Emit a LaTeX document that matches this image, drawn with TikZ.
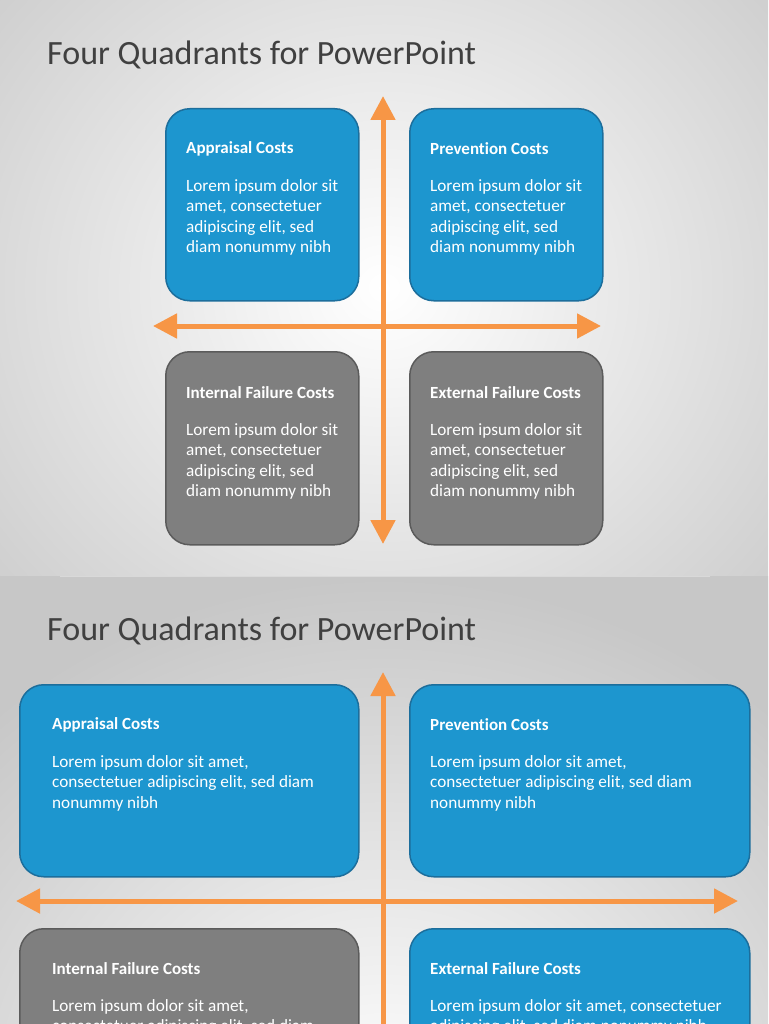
\documentclass[tikz,border=0pt]{standalone}
\usepackage{fontspec}
\setmainfont[Ligatures={NoCommon}]{Carlito}
\usetikzlibrary{arrows.meta}
\definecolor{qblue}{HTML}{1D96CF}
\definecolor{qblueb}{HTML}{1C6E9C}
\definecolor{qgray}{HTML}{7F7F7F}
\definecolor{qgrayb}{HTML}{5B5B5B}
\definecolor{qorange}{HTML}{F79646}
\definecolor{qtitle}{HTML}{404040}
\tikzset{
  quad/.style={rounded corners=24pt, line width=1.5pt, anchor=north west, inner sep=0pt},
  bluebox/.style={quad, fill=qblue, draw=qblueb},
  graybox/.style={quad, fill=qgray, draw=qgrayb},
  head/.style={anchor=west, text=white, font=\fontsize{17}{20}\selectfont\bfseries, inner sep=0pt},
  body/.style={anchor=north west, text=white, font=\fontsize{17.2}{20.5}\selectfont, align=left, inner sep=0pt},
  axis/.style={draw=qorange, line width=5pt, {Triangle[length=24pt,width=24pt]}-{Triangle[length=24pt,width=24pt]}},
  ttl/.style={anchor=west, text=qtitle, font=\fontsize{34}{40}\selectfont, inner sep=0pt}
}
\begin{document}
\begin{tikzpicture}[x=1pt,y=-1pt]
\useasboundingbox (0,0) rectangle (768,1024);
\begin{scope}
\clip (0,0) rectangle (768,1024);
\shade[inner color=white, outer color=black!22, shading=radial] (-200,-250) rectangle (968,825);
\shade[inner color=white, outer color=black!22, shading=radial] (-200,576) rectangle (968,1650);
\draw[black!15, line width=0.8pt] (60,576) -- (710,576);
% slide 1
\node[ttl] (t1) at (47,55) {Four Quadrants for PowerPoint};
\node[bluebox, minimum width=193pt, minimum height=192pt] (a1) at (165,108) {};
\node[bluebox, minimum width=193pt, minimum height=192pt] (p1) at (409,108) {};
\node[graybox, minimum width=193pt, minimum height=193pt] (i1) at (165,351) {};
\node[graybox, minimum width=193pt, minimum height=193pt] (e1) at (409,351) {};
\coordinate (v1t) at (383,96); \coordinate (v1b) at (383,544);
\coordinate (h1l) at (153,326); \coordinate (h1r) at (601,326);
\draw[axis] (v1t) -- (v1b);
\draw[axis] (h1l) -- (h1r);
\node[head] (a1h) at (186,149) {Appraisal Costs};
\node[body] (a1b) at (186,179) {Lorem ipsum dolor sit\\amet, consectetuer\\adipiscing elit, sed\\diam nonummy nibh};
\node[head] (p1h) at (430,149) {Prevention Costs};
\node[body] (p1b) at (430,179) {Lorem ipsum dolor sit\\amet, consectetuer\\adipiscing elit, sed\\diam nonummy nibh};
\node[head] (i1h) at (186,393) {Internal Failure Costs};
\node[body] (i1b) at (186,423) {Lorem ipsum dolor sit\\amet, consectetuer\\adipiscing elit, sed\\diam nonummy nibh};
\node[head] (e1h) at (430,393) {External Failure Costs};
\node[body] (e1b) at (430,423) {Lorem ipsum dolor sit\\amet, consectetuer\\adipiscing elit, sed\\diam nonummy nibh};
% slide 2
\node[ttl] (t2) at (47,631) {Four Quadrants for PowerPoint};
\node[bluebox, minimum width=339pt, minimum height=192pt] (a2) at (19,684) {};
\node[bluebox, minimum width=340pt, minimum height=192pt] (p2) at (409,684) {};
\node[graybox, minimum width=339pt, minimum height=192pt] (i2) at (19,928) {};
\node[bluebox, minimum width=340pt, minimum height=192pt] (e2) at (409,928) {};
\coordinate (v2t) at (383,672); \coordinate (v2b) at (383,1120);
\coordinate (h2l) at (16,901); \coordinate (h2r) at (738,901);
\draw[axis] (v2t) -- (v2b);
\draw[axis] (h2l) -- (h2r);
\node[head] (a2h) at (52,725) {Appraisal Costs};
\node[body] (a2b) at (52,755) {Lorem ipsum dolor sit amet,\\consectetuer adipiscing elit, sed diam\\nonummy nibh};
\node[head] (p2h) at (430,725) {Prevention Costs};
\node[body] (p2b) at (430,755) {Lorem ipsum dolor sit amet,\\consectetuer adipiscing elit, sed diam\\nonummy nibh};
\node[head] (i2h) at (52,969) {Internal Failure Costs};
\node[body] (i2b) at (52,999) {Lorem ipsum dolor sit amet,\\consectetuer adipiscing elit, sed diam\\nonummy nibh};
\node[head] (e2h) at (430,969) {External Failure Costs};
\node[body] (e2b) at (430,999) {Lorem ipsum dolor sit amet, consectetuer\\adipiscing elit, sed diam nonummy nibh};
\end{scope}
\end{tikzpicture}
\end{document}
